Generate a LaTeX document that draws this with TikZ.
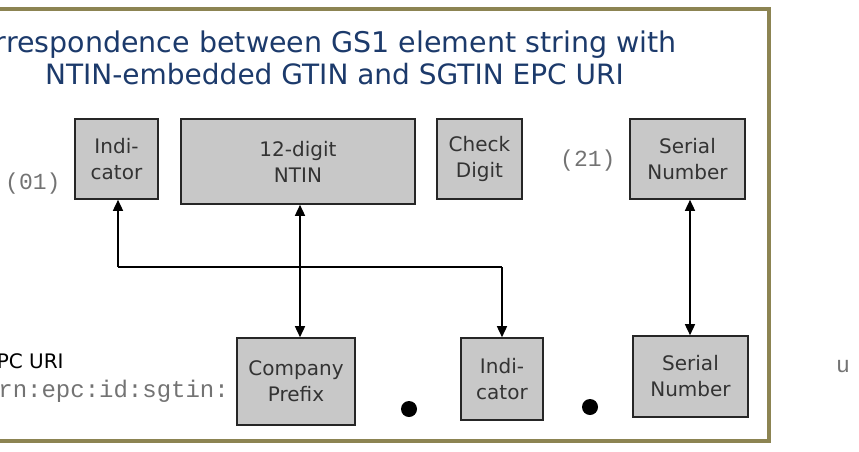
\documentclass[tikz,border=0pt]{standalone}
\usepackage{fontspec}
\setmainfont{DejaVu Sans}
\newfontfamily\monof{Liberation Mono}
\usetikzlibrary{arrows.meta}
\definecolor{frame}{HTML}{8C8452}
\definecolor{titlec}{HTML}{1C3A6B}
\definecolor{boxc}{HTML}{C8C8C8}
\begin{document}
\begin{tikzpicture}[x=1pt,y=-1pt,
  bx/.style={draw=black!85,line width=1.6pt,fill=boxc,align=center,font=\fontsize{20}{26}\selectfont,text=black!80,inner sep=0pt},
  arr/.style={line width=1.5pt,-{Triangle[length=11pt,width=10pt]}},
  darr/.style={line width=1.5pt,{Triangle[length=11pt,width=10pt]}-{Triangle[length=11pt,width=10pt]}},
  mono/.style={font=\monof\fontsize{23}{26}\selectfont,text=black!55}]
\useasboundingbox (0,0) rectangle (859,451);
\clip (0,0) rectangle (859,451);
\draw[frame,line width=3.5pt] (-20,9) -- (769,9) -- (769,441) -- (-20,441);
\node[anchor=base east,text=titlec,font=\fontsize{28.5}{32}\selectfont,inner sep=0] (t1) at (677,52) {Correspondence between GS1 element string with};
\node[anchor=base east,text=titlec,font=\fontsize{28}{32}\selectfont,inner sep=0] (t2) at (624,84) {NTIN-embedded GTIN and SGTIN EPC URI};
\node[bx,minimum width=83pt,minimum height=80pt] (ind) at (116.5,159) {Indi-\\cator};
\node[bx,minimum width=234pt,minimum height=85pt] (ntin) at (298,161.5) {12-digit\\NTIN};
\node[bx,minimum width=85pt,minimum height=80pt] (chk) at (479.5,159) {Check\\Digit};
\node[bx,minimum width=115pt,minimum height=80pt] (ser) at (687.5,159) {Serial\\Number};
\node[bx,minimum width=118pt,minimum height=87pt] (cp) at (296,381.5) {Company\\Prefix};
\node[bx,minimum width=82pt,minimum height=82pt] (ind2) at (502,379) {Indi-\\cator};
\node[bx,minimum width=115pt,minimum height=81pt] (ser2) at (690.5,376.5) {Serial\\Number};
\node[mono,anchor=west,inner sep=0] (l01) at (5,184) {(01)};
\node[mono,anchor=west,inner sep=0] (l21) at (560,161) {(21)};
\node[anchor=base west,inner sep=0,font=\fontsize{20}{24}\selectfont] (epc) at (-16,368) {EPC URI};
\node[mono,anchor=base east,font=\monof\fontsize{24}{26}\selectfont,inner sep=0] (urn) at (229,397) {urn:epc:id:sgtin:};
\node[mono,anchor=base west,inner sep=0] (u) at (836,372) {u};
\fill (409,409) circle (8pt);
\fill (590,407) circle (8pt);
\coordinate (c1) at (118,267);
\coordinate (c2) at (502,267);
\draw[arr] (c1) -- (ind.south -| c1);
\draw[line width=1.5pt] (c1) -- (c2);
\draw[arr] (c2) -- (ind2.north);
\draw[darr] (ntin.south -| 300,0) -- (cp.north -| 300,0);
\draw[darr] (ser.south -| 690,0) -- (ser2.north -| 690,0);
\end{tikzpicture}
\end{document}
